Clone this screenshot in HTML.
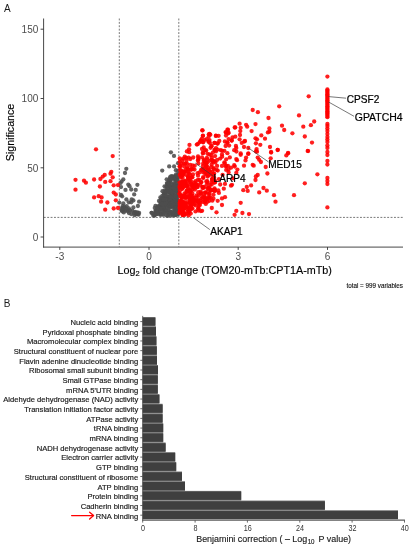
<!DOCTYPE html><html><head><meta charset="utf-8"><title>Figure</title>
<style>html,body{margin:0;padding:0;background:#fff}svg{display:block}text{font-family:"Liberation Sans",sans-serif}</style></head><body>
<svg width="414" height="550" viewBox="0 0 414 550">
<rect width="414" height="550" fill="#fff"/>
<text x="4.1" y="11.8" font-size="10" fill="#1a1a1a">A</text>
<g stroke="#4a4a4a" stroke-width="0.75" stroke-dasharray="1.9 1.5" fill="none">
<line x1="119.3" y1="18.5" x2="119.3" y2="246.8"/>
<line x1="178.8" y1="18.5" x2="178.8" y2="246.8"/>
<line x1="43.8" y1="217.4" x2="403" y2="217.4"/>
</g>
<g fill="#4d4d4d" fill-opacity="0.88">
<circle cx="126.3" cy="168.8" r="2.15"/>
<circle cx="125.0" cy="173.0" r="2.15"/>
<circle cx="123.3" cy="179.4" r="2.15"/>
<circle cx="121.6" cy="181.4" r="2.15"/>
<circle cx="120.5" cy="183.1" r="2.15"/>
<circle cx="128.3" cy="184.6" r="2.15"/>
<circle cx="129.5" cy="186.2" r="2.15"/>
<circle cx="137.4" cy="184.8" r="2.15"/>
<circle cx="121.0" cy="187.1" r="2.15"/>
<circle cx="125.5" cy="189.9" r="2.15"/>
<circle cx="131.2" cy="189.5" r="2.15"/>
<circle cx="135.7" cy="189.9" r="2.15"/>
<circle cx="134.2" cy="194.4" r="2.15"/>
<circle cx="121.0" cy="194.9" r="2.15"/>
<circle cx="122.1" cy="196.3" r="2.15"/>
<circle cx="126.4" cy="199.5" r="2.15"/>
<circle cx="131.7" cy="199.5" r="2.15"/>
<circle cx="133.4" cy="200.4" r="2.15"/>
<circle cx="131.2" cy="202.3" r="2.15"/>
<circle cx="139.1" cy="201.7" r="2.15"/>
<circle cx="119.3" cy="202.6" r="2.15"/>
<circle cx="123.3" cy="203.4" r="2.15"/>
<circle cx="128.9" cy="202.3" r="2.15"/>
<circle cx="137.9" cy="206.0" r="2.15"/>
<circle cx="133.4" cy="207.4" r="2.15"/>
<circle cx="122.7" cy="206.2" r="2.15"/>
<circle cx="124.4" cy="206.8" r="2.15"/>
<circle cx="126.7" cy="206.2" r="2.15"/>
<circle cx="121.6" cy="208.5" r="2.15"/>
<circle cx="123.3" cy="209.6" r="2.15"/>
<circle cx="126.1" cy="208.5" r="2.15"/>
<circle cx="128.9" cy="208.5" r="2.15"/>
<circle cx="130.0" cy="210.2" r="2.15"/>
<circle cx="132.3" cy="210.7" r="2.15"/>
<circle cx="123.8" cy="212.4" r="2.15"/>
<circle cx="128.9" cy="213.0" r="2.15"/>
<circle cx="131.2" cy="214.1" r="2.15"/>
<circle cx="135.1" cy="211.9" r="2.15"/>
<circle cx="137.4" cy="212.4" r="2.15"/>
<circle cx="139.1" cy="213.0" r="2.15"/>
<circle cx="136.2" cy="214.1" r="2.15"/>
<circle cx="138.5" cy="214.7" r="2.15"/>
<circle cx="134.5" cy="215.2" r="2.15"/>
<circle cx="151.5" cy="212.8" r="2.15"/>
<circle cx="122.1" cy="211.3" r="2.15"/>
<circle cx="125.0" cy="210.7" r="2.15"/>
<circle cx="127.8" cy="211.3" r="2.15"/>
<circle cx="134.0" cy="213.0" r="2.15"/>
<circle cx="136.8" cy="213.6" r="2.15"/>
<circle cx="135.7" cy="212.8" r="2.15"/>
<circle cx="137.7" cy="213.9" r="2.15"/>
<circle cx="127.2" cy="209.6" r="2.15"/>
<circle cx="123.0" cy="207.9" r="2.15"/>
<circle cx="121.9" cy="210.2" r="2.15"/>
<circle cx="166.1" cy="191.2" r="2.15"/>
<circle cx="172.8" cy="178.1" r="2.15"/>
<circle cx="170.7" cy="192.8" r="2.15"/>
<circle cx="157.5" cy="211.6" r="2.15"/>
<circle cx="156.3" cy="212.2" r="2.15"/>
<circle cx="158.1" cy="206.3" r="2.15"/>
<circle cx="168.4" cy="210.4" r="2.15"/>
<circle cx="160.3" cy="204.6" r="2.15"/>
<circle cx="172.4" cy="213.9" r="2.15"/>
<circle cx="171.4" cy="193.6" r="2.15"/>
<circle cx="178.0" cy="170.9" r="2.15"/>
<circle cx="176.2" cy="185.7" r="2.15"/>
<circle cx="161.1" cy="201.5" r="2.15"/>
<circle cx="165.8" cy="211.1" r="2.15"/>
<circle cx="162.3" cy="208.4" r="2.15"/>
<circle cx="172.6" cy="191.9" r="2.15"/>
<circle cx="170.9" cy="179.3" r="2.15"/>
<circle cx="157.6" cy="208.5" r="2.15"/>
<circle cx="173.3" cy="193.8" r="2.15"/>
<circle cx="165.9" cy="204.8" r="2.15"/>
<circle cx="169.0" cy="192.0" r="2.15"/>
<circle cx="175.2" cy="204.0" r="2.15"/>
<circle cx="164.1" cy="206.3" r="2.15"/>
<circle cx="170.5" cy="211.5" r="2.15"/>
<circle cx="174.1" cy="187.3" r="2.15"/>
<circle cx="178.0" cy="175.2" r="2.15"/>
<circle cx="168.3" cy="208.3" r="2.15"/>
<circle cx="161.3" cy="207.8" r="2.15"/>
<circle cx="156.4" cy="213.7" r="2.15"/>
<circle cx="174.7" cy="199.1" r="2.15"/>
<circle cx="176.4" cy="186.6" r="2.15"/>
<circle cx="173.5" cy="200.4" r="2.15"/>
<circle cx="171.5" cy="195.9" r="2.15"/>
<circle cx="175.9" cy="213.6" r="2.15"/>
<circle cx="169.4" cy="204.6" r="2.15"/>
<circle cx="157.6" cy="213.2" r="2.15"/>
<circle cx="172.7" cy="215.6" r="2.15"/>
<circle cx="175.6" cy="186.0" r="2.15"/>
<circle cx="167.6" cy="205.8" r="2.15"/>
<circle cx="155.3" cy="213.6" r="2.15"/>
<circle cx="161.9" cy="200.1" r="2.15"/>
<circle cx="157.5" cy="213.8" r="2.15"/>
<circle cx="160.5" cy="204.7" r="2.15"/>
<circle cx="167.7" cy="212.0" r="2.15"/>
<circle cx="158.6" cy="209.9" r="2.15"/>
<circle cx="170.9" cy="211.8" r="2.15"/>
<circle cx="175.6" cy="210.5" r="2.15"/>
<circle cx="165.0" cy="201.1" r="2.15"/>
<circle cx="167.0" cy="212.5" r="2.15"/>
<circle cx="177.7" cy="177.2" r="2.15"/>
<circle cx="162.1" cy="201.9" r="2.15"/>
<circle cx="163.8" cy="204.5" r="2.15"/>
<circle cx="171.7" cy="187.9" r="2.15"/>
<circle cx="153.3" cy="215.6" r="2.15"/>
<circle cx="167.2" cy="202.9" r="2.15"/>
<circle cx="177.6" cy="202.8" r="2.15"/>
<circle cx="170.3" cy="202.5" r="2.15"/>
<circle cx="173.2" cy="176.7" r="2.15"/>
<circle cx="176.8" cy="206.8" r="2.15"/>
<circle cx="176.4" cy="207.7" r="2.15"/>
<circle cx="167.7" cy="197.0" r="2.15"/>
<circle cx="159.6" cy="211.3" r="2.15"/>
<circle cx="157.7" cy="206.7" r="2.15"/>
<circle cx="163.1" cy="198.1" r="2.15"/>
<circle cx="166.5" cy="186.6" r="2.15"/>
<circle cx="161.3" cy="200.8" r="2.15"/>
<circle cx="167.1" cy="184.1" r="2.15"/>
<circle cx="176.4" cy="200.0" r="2.15"/>
<circle cx="161.2" cy="203.9" r="2.15"/>
<circle cx="166.7" cy="197.2" r="2.15"/>
<circle cx="160.3" cy="213.8" r="2.15"/>
<circle cx="178.2" cy="192.6" r="2.15"/>
<circle cx="169.6" cy="182.2" r="2.15"/>
<circle cx="159.5" cy="207.5" r="2.15"/>
<circle cx="164.7" cy="211.8" r="2.15"/>
<circle cx="161.6" cy="198.3" r="2.15"/>
<circle cx="177.6" cy="195.6" r="2.15"/>
<circle cx="161.1" cy="208.8" r="2.15"/>
<circle cx="155.6" cy="213.5" r="2.15"/>
<circle cx="178.0" cy="210.1" r="2.15"/>
<circle cx="173.6" cy="186.5" r="2.15"/>
<circle cx="167.1" cy="189.7" r="2.15"/>
<circle cx="174.8" cy="197.4" r="2.15"/>
<circle cx="174.9" cy="188.6" r="2.15"/>
<circle cx="163.5" cy="212.0" r="2.15"/>
<circle cx="178.1" cy="209.6" r="2.15"/>
<circle cx="175.4" cy="208.7" r="2.15"/>
<circle cx="174.3" cy="184.4" r="2.15"/>
<circle cx="170.3" cy="192.6" r="2.15"/>
<circle cx="155.8" cy="210.3" r="2.15"/>
<circle cx="165.0" cy="196.7" r="2.15"/>
<circle cx="173.5" cy="214.2" r="2.15"/>
<circle cx="168.9" cy="213.8" r="2.15"/>
<circle cx="178.1" cy="213.9" r="2.15"/>
<circle cx="167.1" cy="191.7" r="2.15"/>
<circle cx="163.6" cy="197.9" r="2.15"/>
<circle cx="163.0" cy="208.5" r="2.15"/>
<circle cx="176.8" cy="209.3" r="2.15"/>
<circle cx="169.6" cy="204.2" r="2.15"/>
<circle cx="175.3" cy="176.4" r="2.15"/>
<circle cx="172.9" cy="212.5" r="2.15"/>
<circle cx="175.0" cy="206.1" r="2.15"/>
<circle cx="169.5" cy="186.5" r="2.15"/>
<circle cx="175.1" cy="188.6" r="2.15"/>
<circle cx="175.3" cy="214.7" r="2.15"/>
<circle cx="167.8" cy="197.0" r="2.15"/>
<circle cx="177.5" cy="204.3" r="2.15"/>
<circle cx="161.9" cy="200.1" r="2.15"/>
<circle cx="161.3" cy="214.4" r="2.15"/>
<circle cx="175.4" cy="179.5" r="2.15"/>
<circle cx="175.7" cy="215.0" r="2.15"/>
<circle cx="172.9" cy="190.8" r="2.15"/>
<circle cx="170.9" cy="182.6" r="2.15"/>
<circle cx="154.5" cy="215.7" r="2.15"/>
<circle cx="172.7" cy="198.1" r="2.15"/>
<circle cx="177.3" cy="191.5" r="2.15"/>
<circle cx="176.4" cy="208.8" r="2.15"/>
<circle cx="163.2" cy="200.2" r="2.15"/>
<circle cx="165.4" cy="195.6" r="2.15"/>
<circle cx="171.6" cy="187.8" r="2.15"/>
<circle cx="168.3" cy="186.4" r="2.15"/>
<circle cx="177.0" cy="188.1" r="2.15"/>
<circle cx="169.1" cy="202.1" r="2.15"/>
<circle cx="176.9" cy="191.2" r="2.15"/>
<circle cx="177.1" cy="194.7" r="2.15"/>
<circle cx="170.6" cy="198.9" r="2.15"/>
<circle cx="154.9" cy="213.8" r="2.15"/>
<circle cx="162.3" cy="195.8" r="2.15"/>
<circle cx="175.2" cy="181.0" r="2.15"/>
<circle cx="169.4" cy="206.7" r="2.15"/>
<circle cx="171.1" cy="190.9" r="2.15"/>
<circle cx="170.3" cy="200.2" r="2.15"/>
<circle cx="175.0" cy="177.8" r="2.15"/>
<circle cx="171.1" cy="187.7" r="2.15"/>
<circle cx="165.0" cy="210.3" r="2.15"/>
<circle cx="170.1" cy="200.6" r="2.15"/>
<circle cx="174.6" cy="212.5" r="2.15"/>
<circle cx="168.8" cy="203.3" r="2.15"/>
<circle cx="170.1" cy="198.8" r="2.15"/>
<circle cx="173.5" cy="194.7" r="2.15"/>
<circle cx="170.6" cy="197.2" r="2.15"/>
<circle cx="177.4" cy="203.2" r="2.15"/>
<circle cx="176.5" cy="213.5" r="2.15"/>
<circle cx="164.5" cy="205.4" r="2.15"/>
<circle cx="177.5" cy="209.2" r="2.15"/>
<circle cx="160.8" cy="202.0" r="2.15"/>
<circle cx="168.8" cy="183.0" r="2.15"/>
<circle cx="164.0" cy="193.4" r="2.15"/>
<circle cx="173.1" cy="207.8" r="2.15"/>
<circle cx="176.8" cy="178.4" r="2.15"/>
<circle cx="173.9" cy="202.9" r="2.15"/>
<circle cx="161.0" cy="214.1" r="2.15"/>
<circle cx="177.8" cy="180.7" r="2.15"/>
<circle cx="177.6" cy="189.7" r="2.15"/>
<circle cx="169.7" cy="215.5" r="2.15"/>
<circle cx="175.8" cy="179.8" r="2.15"/>
<circle cx="168.6" cy="200.2" r="2.15"/>
<circle cx="166.5" cy="192.0" r="2.15"/>
<circle cx="166.0" cy="208.4" r="2.15"/>
<circle cx="155.0" cy="214.2" r="2.15"/>
<circle cx="168.8" cy="180.3" r="2.15"/>
<circle cx="166.3" cy="205.5" r="2.15"/>
<circle cx="170.2" cy="180.2" r="2.15"/>
<circle cx="178.1" cy="206.9" r="2.15"/>
<circle cx="177.9" cy="174.5" r="2.15"/>
<circle cx="164.7" cy="190.5" r="2.15"/>
<circle cx="174.9" cy="186.0" r="2.15"/>
<circle cx="160.5" cy="207.5" r="2.15"/>
<circle cx="177.0" cy="208.4" r="2.15"/>
<circle cx="164.5" cy="194.6" r="2.15"/>
<circle cx="177.1" cy="197.8" r="2.15"/>
<circle cx="173.6" cy="178.2" r="2.15"/>
<circle cx="157.5" cy="213.2" r="2.15"/>
<circle cx="168.4" cy="183.6" r="2.15"/>
<circle cx="177.4" cy="200.4" r="2.15"/>
<circle cx="175.3" cy="176.3" r="2.15"/>
<circle cx="176.1" cy="174.3" r="2.15"/>
<circle cx="176.2" cy="193.2" r="2.15"/>
<circle cx="166.5" cy="203.2" r="2.15"/>
<circle cx="177.2" cy="183.7" r="2.15"/>
<circle cx="160.5" cy="209.1" r="2.15"/>
<circle cx="164.0" cy="194.7" r="2.15"/>
<circle cx="161.6" cy="199.0" r="2.15"/>
<circle cx="162.9" cy="202.1" r="2.15"/>
<circle cx="165.7" cy="209.6" r="2.15"/>
<circle cx="165.3" cy="203.1" r="2.15"/>
<circle cx="162.2" cy="204.1" r="2.15"/>
<circle cx="154.9" cy="213.2" r="2.15"/>
<circle cx="154.6" cy="215.0" r="2.15"/>
<circle cx="171.0" cy="185.3" r="2.15"/>
<circle cx="169.5" cy="213.7" r="2.15"/>
<circle cx="159.7" cy="213.6" r="2.15"/>
<circle cx="168.6" cy="199.4" r="2.15"/>
<circle cx="175.8" cy="190.8" r="2.15"/>
<circle cx="170.1" cy="205.1" r="2.15"/>
<circle cx="178.0" cy="186.8" r="2.15"/>
<circle cx="175.8" cy="204.1" r="2.15"/>
<circle cx="172.5" cy="193.3" r="2.15"/>
<circle cx="166.7" cy="186.3" r="2.15"/>
<circle cx="160.6" cy="201.5" r="2.15"/>
<circle cx="174.3" cy="185.7" r="2.15"/>
<circle cx="161.7" cy="199.7" r="2.15"/>
<circle cx="175.9" cy="210.7" r="2.15"/>
<circle cx="173.1" cy="187.7" r="2.15"/>
<circle cx="164.1" cy="199.5" r="2.15"/>
<circle cx="169.1" cy="186.2" r="2.15"/>
<circle cx="168.9" cy="190.8" r="2.15"/>
<circle cx="177.7" cy="214.7" r="2.15"/>
<circle cx="170.9" cy="187.7" r="2.15"/>
<circle cx="177.8" cy="185.3" r="2.15"/>
<circle cx="166.9" cy="183.1" r="2.15"/>
<circle cx="167.5" cy="199.7" r="2.15"/>
<circle cx="170.0" cy="186.7" r="2.15"/>
<circle cx="170.1" cy="177.1" r="2.15"/>
<circle cx="164.6" cy="192.3" r="2.15"/>
<circle cx="167.9" cy="183.1" r="2.15"/>
<circle cx="155.3" cy="212.8" r="2.15"/>
<circle cx="163.8" cy="206.9" r="2.15"/>
<circle cx="170.5" cy="207.2" r="2.15"/>
<circle cx="172.9" cy="205.3" r="2.15"/>
<circle cx="176.5" cy="190.1" r="2.15"/>
<circle cx="166.2" cy="215.4" r="2.15"/>
<circle cx="161.2" cy="211.6" r="2.15"/>
<circle cx="172.6" cy="176.7" r="2.15"/>
<circle cx="175.8" cy="211.6" r="2.15"/>
<circle cx="172.4" cy="206.1" r="2.15"/>
<circle cx="175.5" cy="179.1" r="2.15"/>
<circle cx="170.4" cy="198.2" r="2.15"/>
<circle cx="175.8" cy="208.1" r="2.15"/>
<circle cx="175.7" cy="199.1" r="2.15"/>
<circle cx="176.7" cy="202.8" r="2.15"/>
<circle cx="173.5" cy="185.1" r="2.15"/>
<circle cx="155.9" cy="210.8" r="2.15"/>
<circle cx="167.0" cy="187.6" r="2.15"/>
<circle cx="175.8" cy="197.9" r="2.15"/>
<circle cx="172.4" cy="202.1" r="2.15"/>
<circle cx="173.3" cy="196.3" r="2.15"/>
<circle cx="175.2" cy="206.0" r="2.15"/>
<circle cx="170.0" cy="199.7" r="2.15"/>
<circle cx="172.9" cy="177.6" r="2.15"/>
<circle cx="174.2" cy="185.6" r="2.15"/>
<circle cx="158.3" cy="208.1" r="2.15"/>
<circle cx="174.1" cy="183.6" r="2.15"/>
<circle cx="174.3" cy="214.9" r="2.15"/>
<circle cx="169.8" cy="194.2" r="2.15"/>
<circle cx="169.5" cy="205.3" r="2.15"/>
<circle cx="174.7" cy="200.9" r="2.15"/>
<circle cx="172.6" cy="178.5" r="2.15"/>
<circle cx="161.2" cy="203.9" r="2.15"/>
<circle cx="174.3" cy="187.9" r="2.15"/>
<circle cx="171.3" cy="176.1" r="2.15"/>
<circle cx="157.6" cy="209.1" r="2.15"/>
<circle cx="173.1" cy="204.4" r="2.15"/>
<circle cx="173.2" cy="188.1" r="2.15"/>
<circle cx="170.3" cy="196.8" r="2.15"/>
<circle cx="169.3" cy="184.3" r="2.15"/>
<circle cx="176.7" cy="180.8" r="2.15"/>
<circle cx="178.0" cy="213.2" r="2.15"/>
<circle cx="154.8" cy="214.0" r="2.15"/>
<circle cx="175.6" cy="214.6" r="2.15"/>
<circle cx="168.9" cy="190.9" r="2.15"/>
<circle cx="163.1" cy="214.8" r="2.15"/>
<circle cx="163.2" cy="207.5" r="2.15"/>
<circle cx="161.0" cy="208.7" r="2.15"/>
<circle cx="177.6" cy="176.3" r="2.15"/>
<circle cx="175.6" cy="196.0" r="2.15"/>
<circle cx="176.6" cy="203.7" r="2.15"/>
<circle cx="163.8" cy="213.7" r="2.15"/>
<circle cx="169.7" cy="179.0" r="2.15"/>
<circle cx="169.8" cy="196.8" r="2.15"/>
<circle cx="165.6" cy="191.9" r="2.15"/>
<circle cx="166.6" cy="195.8" r="2.15"/>
<circle cx="175.9" cy="170.2" r="2.15"/>
<circle cx="174.5" cy="209.7" r="2.15"/>
<circle cx="160.2" cy="214.8" r="2.15"/>
<circle cx="173.8" cy="212.1" r="2.15"/>
<circle cx="165.3" cy="199.5" r="2.15"/>
<circle cx="167.7" cy="215.8" r="2.15"/>
<circle cx="171.7" cy="192.0" r="2.15"/>
<circle cx="168.5" cy="191.7" r="2.15"/>
<circle cx="157.0" cy="208.5" r="2.15"/>
<circle cx="175.8" cy="185.9" r="2.15"/>
<circle cx="177.4" cy="182.7" r="2.15"/>
<circle cx="164.7" cy="204.0" r="2.15"/>
<circle cx="162.5" cy="204.0" r="2.15"/>
<circle cx="177.7" cy="211.0" r="2.15"/>
<circle cx="175.5" cy="201.2" r="2.15"/>
<circle cx="177.0" cy="213.4" r="2.15"/>
<circle cx="170.9" cy="206.0" r="2.15"/>
<circle cx="157.0" cy="213.8" r="2.15"/>
<circle cx="170.9" cy="152.3" r="2.15"/>
<circle cx="174.0" cy="155.9" r="2.15"/>
<circle cx="178.1" cy="163.2" r="2.15"/>
<circle cx="169.2" cy="166.4" r="2.15"/>
<circle cx="174.1" cy="166.4" r="2.15"/>
<circle cx="162.2" cy="170.6" r="2.15"/>
<circle cx="151.8" cy="212.8" r="2.15"/>
<circle cx="166.7" cy="179.3" r="2.15"/>
<circle cx="164.6" cy="186.3" r="2.15"/>
<circle cx="162.5" cy="191.2" r="2.15"/>
<circle cx="160.4" cy="197.4" r="2.15"/>
<circle cx="159.0" cy="201.0" r="2.15"/>
<circle cx="155.5" cy="205.8" r="2.15"/>
<circle cx="154.8" cy="208.0" r="2.15"/>
</g>
<g fill="#ff0000" fill-opacity="0.88">
<circle cx="96.0" cy="149.3" r="2.15"/>
<circle cx="112.7" cy="156.1" r="2.15"/>
<circle cx="111.3" cy="171.8" r="2.15"/>
<circle cx="110.5" cy="173.7" r="2.15"/>
<circle cx="104.7" cy="174.9" r="2.15"/>
<circle cx="102.8" cy="176.6" r="2.15"/>
<circle cx="100.4" cy="179.0" r="2.15"/>
<circle cx="94.1" cy="179.5" r="2.15"/>
<circle cx="75.5" cy="179.8" r="2.15"/>
<circle cx="84.0" cy="180.7" r="2.15"/>
<circle cx="85.9" cy="182.7" r="2.15"/>
<circle cx="105.2" cy="181.9" r="2.15"/>
<circle cx="110.5" cy="181.2" r="2.15"/>
<circle cx="112.7" cy="177.3" r="2.15"/>
<circle cx="75.5" cy="189.7" r="2.15"/>
<circle cx="99.9" cy="186.5" r="2.15"/>
<circle cx="113.7" cy="185.3" r="2.15"/>
<circle cx="118.0" cy="185.1" r="2.15"/>
<circle cx="113.7" cy="192.6" r="2.15"/>
<circle cx="115.8" cy="194.5" r="2.15"/>
<circle cx="94.1" cy="197.4" r="2.15"/>
<circle cx="98.7" cy="196.2" r="2.15"/>
<circle cx="101.6" cy="197.4" r="2.15"/>
<circle cx="101.1" cy="201.7" r="2.15"/>
<circle cx="107.4" cy="202.5" r="2.15"/>
<circle cx="115.8" cy="200.3" r="2.15"/>
<circle cx="105.2" cy="209.7" r="2.15"/>
<circle cx="113.7" cy="208.5" r="2.15"/>
<circle cx="118.0" cy="208.0" r="2.15"/>
<circle cx="190.9" cy="206.2" r="2.15"/>
<circle cx="185.5" cy="163.6" r="2.15"/>
<circle cx="211.8" cy="159.9" r="2.15"/>
<circle cx="191.7" cy="185.1" r="2.15"/>
<circle cx="185.8" cy="206.5" r="2.15"/>
<circle cx="184.7" cy="203.4" r="2.15"/>
<circle cx="185.9" cy="198.8" r="2.15"/>
<circle cx="188.9" cy="173.5" r="2.15"/>
<circle cx="182.2" cy="181.6" r="2.15"/>
<circle cx="210.8" cy="190.4" r="2.15"/>
<circle cx="183.6" cy="212.9" r="2.15"/>
<circle cx="190.9" cy="169.7" r="2.15"/>
<circle cx="182.9" cy="171.3" r="2.15"/>
<circle cx="187.2" cy="167.4" r="2.15"/>
<circle cx="184.1" cy="183.8" r="2.15"/>
<circle cx="195.5" cy="211.4" r="2.15"/>
<circle cx="189.6" cy="190.1" r="2.15"/>
<circle cx="193.7" cy="186.4" r="2.15"/>
<circle cx="187.1" cy="163.9" r="2.15"/>
<circle cx="192.9" cy="200.3" r="2.15"/>
<circle cx="208.7" cy="169.7" r="2.15"/>
<circle cx="185.0" cy="182.5" r="2.15"/>
<circle cx="189.1" cy="192.0" r="2.15"/>
<circle cx="179.8" cy="206.4" r="2.15"/>
<circle cx="191.8" cy="198.5" r="2.15"/>
<circle cx="179.6" cy="193.3" r="2.15"/>
<circle cx="211.8" cy="208.0" r="2.15"/>
<circle cx="184.4" cy="171.9" r="2.15"/>
<circle cx="182.0" cy="198.5" r="2.15"/>
<circle cx="198.8" cy="205.8" r="2.15"/>
<circle cx="191.2" cy="196.9" r="2.15"/>
<circle cx="181.4" cy="184.9" r="2.15"/>
<circle cx="198.3" cy="202.7" r="2.15"/>
<circle cx="181.1" cy="170.4" r="2.15"/>
<circle cx="193.7" cy="197.9" r="2.15"/>
<circle cx="188.7" cy="178.2" r="2.15"/>
<circle cx="196.8" cy="144.6" r="2.15"/>
<circle cx="185.9" cy="194.2" r="2.15"/>
<circle cx="213.5" cy="198.7" r="2.15"/>
<circle cx="191.8" cy="177.4" r="2.15"/>
<circle cx="184.3" cy="214.7" r="2.15"/>
<circle cx="186.1" cy="157.9" r="2.15"/>
<circle cx="192.7" cy="202.5" r="2.15"/>
<circle cx="189.8" cy="180.1" r="2.15"/>
<circle cx="179.9" cy="190.5" r="2.15"/>
<circle cx="189.9" cy="203.3" r="2.15"/>
<circle cx="183.0" cy="209.1" r="2.15"/>
<circle cx="193.0" cy="174.4" r="2.15"/>
<circle cx="214.0" cy="177.2" r="2.15"/>
<circle cx="206.6" cy="171.4" r="2.15"/>
<circle cx="213.1" cy="190.1" r="2.15"/>
<circle cx="182.8" cy="182.4" r="2.15"/>
<circle cx="189.7" cy="202.6" r="2.15"/>
<circle cx="213.0" cy="162.0" r="2.15"/>
<circle cx="188.9" cy="177.3" r="2.15"/>
<circle cx="214.3" cy="161.3" r="2.15"/>
<circle cx="180.1" cy="169.9" r="2.15"/>
<circle cx="188.9" cy="212.2" r="2.15"/>
<circle cx="212.1" cy="178.8" r="2.15"/>
<circle cx="182.7" cy="213.9" r="2.15"/>
<circle cx="179.8" cy="204.8" r="2.15"/>
<circle cx="188.4" cy="188.3" r="2.15"/>
<circle cx="186.9" cy="175.3" r="2.15"/>
<circle cx="179.6" cy="187.5" r="2.15"/>
<circle cx="213.8" cy="168.2" r="2.15"/>
<circle cx="187.7" cy="209.4" r="2.15"/>
<circle cx="190.3" cy="159.0" r="2.15"/>
<circle cx="191.8" cy="186.9" r="2.15"/>
<circle cx="211.5" cy="167.2" r="2.15"/>
<circle cx="189.5" cy="208.8" r="2.15"/>
<circle cx="179.9" cy="166.4" r="2.15"/>
<circle cx="185.1" cy="214.6" r="2.15"/>
<circle cx="184.8" cy="205.8" r="2.15"/>
<circle cx="186.4" cy="183.5" r="2.15"/>
<circle cx="179.6" cy="208.1" r="2.15"/>
<circle cx="184.0" cy="195.7" r="2.15"/>
<circle cx="184.5" cy="193.3" r="2.15"/>
<circle cx="205.8" cy="203.9" r="2.15"/>
<circle cx="204.4" cy="197.2" r="2.15"/>
<circle cx="186.7" cy="186.0" r="2.15"/>
<circle cx="180.3" cy="166.0" r="2.15"/>
<circle cx="194.8" cy="182.6" r="2.15"/>
<circle cx="180.6" cy="173.5" r="2.15"/>
<circle cx="192.7" cy="204.1" r="2.15"/>
<circle cx="190.8" cy="177.9" r="2.15"/>
<circle cx="189.7" cy="200.6" r="2.15"/>
<circle cx="199.9" cy="204.9" r="2.15"/>
<circle cx="207.6" cy="176.5" r="2.15"/>
<circle cx="195.4" cy="185.5" r="2.15"/>
<circle cx="202.8" cy="169.0" r="2.15"/>
<circle cx="184.4" cy="182.8" r="2.15"/>
<circle cx="182.0" cy="212.2" r="2.15"/>
<circle cx="186.7" cy="190.5" r="2.15"/>
<circle cx="215.2" cy="190.7" r="2.15"/>
<circle cx="183.9" cy="209.4" r="2.15"/>
<circle cx="215.1" cy="156.1" r="2.15"/>
<circle cx="191.8" cy="208.9" r="2.15"/>
<circle cx="211.2" cy="146.4" r="2.15"/>
<circle cx="185.7" cy="171.7" r="2.15"/>
<circle cx="182.8" cy="215.1" r="2.15"/>
<circle cx="212.0" cy="182.0" r="2.15"/>
<circle cx="208.8" cy="187.5" r="2.15"/>
<circle cx="184.7" cy="208.2" r="2.15"/>
<circle cx="181.0" cy="201.9" r="2.15"/>
<circle cx="197.6" cy="173.2" r="2.15"/>
<circle cx="188.1" cy="171.8" r="2.15"/>
<circle cx="183.2" cy="184.2" r="2.15"/>
<circle cx="196.7" cy="200.7" r="2.15"/>
<circle cx="183.2" cy="158.6" r="2.15"/>
<circle cx="186.7" cy="203.8" r="2.15"/>
<circle cx="182.7" cy="187.9" r="2.15"/>
<circle cx="183.2" cy="209.0" r="2.15"/>
<circle cx="180.3" cy="174.2" r="2.15"/>
<circle cx="189.0" cy="197.4" r="2.15"/>
<circle cx="198.4" cy="159.5" r="2.15"/>
<circle cx="182.2" cy="205.5" r="2.15"/>
<circle cx="189.5" cy="182.1" r="2.15"/>
<circle cx="195.4" cy="184.5" r="2.15"/>
<circle cx="189.7" cy="210.9" r="2.15"/>
<circle cx="187.9" cy="176.8" r="2.15"/>
<circle cx="202.3" cy="169.7" r="2.15"/>
<circle cx="179.6" cy="212.9" r="2.15"/>
<circle cx="206.6" cy="184.8" r="2.15"/>
<circle cx="209.6" cy="188.2" r="2.15"/>
<circle cx="182.2" cy="160.5" r="2.15"/>
<circle cx="194.8" cy="200.5" r="2.15"/>
<circle cx="211.0" cy="155.0" r="2.15"/>
<circle cx="197.7" cy="184.6" r="2.15"/>
<circle cx="192.9" cy="169.1" r="2.15"/>
<circle cx="185.4" cy="197.3" r="2.15"/>
<circle cx="211.8" cy="157.6" r="2.15"/>
<circle cx="192.4" cy="208.2" r="2.15"/>
<circle cx="183.0" cy="174.8" r="2.15"/>
<circle cx="210.7" cy="197.5" r="2.15"/>
<circle cx="189.3" cy="210.2" r="2.15"/>
<circle cx="182.7" cy="182.1" r="2.15"/>
<circle cx="189.1" cy="195.8" r="2.15"/>
<circle cx="188.6" cy="169.6" r="2.15"/>
<circle cx="184.3" cy="206.2" r="2.15"/>
<circle cx="180.0" cy="200.8" r="2.15"/>
<circle cx="203.7" cy="147.5" r="2.15"/>
<circle cx="207.5" cy="159.4" r="2.15"/>
<circle cx="196.7" cy="195.5" r="2.15"/>
<circle cx="197.9" cy="180.0" r="2.15"/>
<circle cx="189.8" cy="198.8" r="2.15"/>
<circle cx="190.0" cy="202.2" r="2.15"/>
<circle cx="190.8" cy="191.1" r="2.15"/>
<circle cx="179.8" cy="203.0" r="2.15"/>
<circle cx="192.4" cy="177.2" r="2.15"/>
<circle cx="182.6" cy="196.2" r="2.15"/>
<circle cx="181.0" cy="176.2" r="2.15"/>
<circle cx="190.2" cy="165.0" r="2.15"/>
<circle cx="190.6" cy="195.0" r="2.15"/>
<circle cx="179.9" cy="203.7" r="2.15"/>
<circle cx="180.6" cy="207.2" r="2.15"/>
<circle cx="193.2" cy="157.5" r="2.15"/>
<circle cx="192.9" cy="186.7" r="2.15"/>
<circle cx="213.1" cy="160.8" r="2.15"/>
<circle cx="214.7" cy="189.7" r="2.15"/>
<circle cx="210.3" cy="174.7" r="2.15"/>
<circle cx="206.4" cy="162.7" r="2.15"/>
<circle cx="184.8" cy="196.8" r="2.15"/>
<circle cx="186.5" cy="160.5" r="2.15"/>
<circle cx="182.6" cy="177.9" r="2.15"/>
<circle cx="212.3" cy="200.7" r="2.15"/>
<circle cx="194.0" cy="200.4" r="2.15"/>
<circle cx="187.8" cy="211.4" r="2.15"/>
<circle cx="205.5" cy="174.4" r="2.15"/>
<circle cx="204.0" cy="187.4" r="2.15"/>
<circle cx="206.6" cy="173.4" r="2.15"/>
<circle cx="199.5" cy="179.9" r="2.15"/>
<circle cx="179.6" cy="166.5" r="2.15"/>
<circle cx="181.9" cy="202.5" r="2.15"/>
<circle cx="190.3" cy="195.2" r="2.15"/>
<circle cx="210.3" cy="160.7" r="2.15"/>
<circle cx="183.8" cy="203.5" r="2.15"/>
<circle cx="179.7" cy="158.4" r="2.15"/>
<circle cx="187.6" cy="168.7" r="2.15"/>
<circle cx="187.7" cy="179.0" r="2.15"/>
<circle cx="196.1" cy="197.6" r="2.15"/>
<circle cx="183.2" cy="202.5" r="2.15"/>
<circle cx="191.8" cy="168.6" r="2.15"/>
<circle cx="212.3" cy="171.8" r="2.15"/>
<circle cx="181.9" cy="172.6" r="2.15"/>
<circle cx="198.4" cy="210.6" r="2.15"/>
<circle cx="184.8" cy="156.7" r="2.15"/>
<circle cx="198.7" cy="195.7" r="2.15"/>
<circle cx="187.5" cy="202.3" r="2.15"/>
<circle cx="190.7" cy="213.6" r="2.15"/>
<circle cx="194.0" cy="188.1" r="2.15"/>
<circle cx="184.1" cy="166.4" r="2.15"/>
<circle cx="204.7" cy="140.1" r="2.15"/>
<circle cx="183.1" cy="201.9" r="2.15"/>
<circle cx="193.0" cy="200.9" r="2.15"/>
<circle cx="206.3" cy="166.0" r="2.15"/>
<circle cx="186.2" cy="185.2" r="2.15"/>
<circle cx="180.0" cy="212.5" r="2.15"/>
<circle cx="201.8" cy="138.8" r="2.15"/>
<circle cx="202.9" cy="188.2" r="2.15"/>
<circle cx="183.8" cy="172.1" r="2.15"/>
<circle cx="183.9" cy="163.6" r="2.15"/>
<circle cx="187.0" cy="206.7" r="2.15"/>
<circle cx="194.9" cy="189.5" r="2.15"/>
<circle cx="205.1" cy="192.3" r="2.15"/>
<circle cx="184.9" cy="202.8" r="2.15"/>
<circle cx="213.8" cy="169.2" r="2.15"/>
<circle cx="209.5" cy="140.1" r="2.15"/>
<circle cx="184.7" cy="181.9" r="2.15"/>
<circle cx="184.1" cy="212.9" r="2.15"/>
<circle cx="200.7" cy="200.7" r="2.15"/>
<circle cx="214.5" cy="188.3" r="2.15"/>
<circle cx="207.5" cy="201.8" r="2.15"/>
<circle cx="190.4" cy="205.1" r="2.15"/>
<circle cx="195.5" cy="181.1" r="2.15"/>
<circle cx="183.4" cy="202.4" r="2.15"/>
<circle cx="179.8" cy="175.1" r="2.15"/>
<circle cx="212.0" cy="180.0" r="2.15"/>
<circle cx="181.7" cy="163.9" r="2.15"/>
<circle cx="180.0" cy="205.8" r="2.15"/>
<circle cx="198.2" cy="202.7" r="2.15"/>
<circle cx="202.7" cy="153.0" r="2.15"/>
<circle cx="196.4" cy="184.5" r="2.15"/>
<circle cx="183.2" cy="173.2" r="2.15"/>
<circle cx="179.9" cy="211.2" r="2.15"/>
<circle cx="198.2" cy="208.6" r="2.15"/>
<circle cx="185.5" cy="169.9" r="2.15"/>
<circle cx="186.5" cy="192.0" r="2.15"/>
<circle cx="179.7" cy="186.0" r="2.15"/>
<circle cx="185.4" cy="205.7" r="2.15"/>
<circle cx="188.0" cy="185.3" r="2.15"/>
<circle cx="213.7" cy="190.5" r="2.15"/>
<circle cx="208.1" cy="197.6" r="2.15"/>
<circle cx="179.8" cy="194.3" r="2.15"/>
<circle cx="201.3" cy="193.7" r="2.15"/>
<circle cx="206.6" cy="165.6" r="2.15"/>
<circle cx="179.6" cy="182.6" r="2.15"/>
<circle cx="192.4" cy="193.5" r="2.15"/>
<circle cx="205.5" cy="167.2" r="2.15"/>
<circle cx="192.6" cy="185.0" r="2.15"/>
<circle cx="207.2" cy="173.9" r="2.15"/>
<circle cx="212.7" cy="175.1" r="2.15"/>
<circle cx="183.5" cy="205.4" r="2.15"/>
<circle cx="192.7" cy="165.4" r="2.15"/>
<circle cx="198.3" cy="158.1" r="2.15"/>
<circle cx="205.1" cy="201.9" r="2.15"/>
<circle cx="205.0" cy="198.3" r="2.15"/>
<circle cx="187.6" cy="190.3" r="2.15"/>
<circle cx="209.9" cy="143.0" r="2.15"/>
<circle cx="183.2" cy="184.7" r="2.15"/>
<circle cx="210.6" cy="190.6" r="2.15"/>
<circle cx="191.3" cy="195.9" r="2.15"/>
<circle cx="187.4" cy="186.1" r="2.15"/>
<circle cx="182.0" cy="210.8" r="2.15"/>
<circle cx="203.0" cy="166.0" r="2.15"/>
<circle cx="190.5" cy="207.1" r="2.15"/>
<circle cx="181.4" cy="196.0" r="2.15"/>
<circle cx="209.8" cy="171.6" r="2.15"/>
<circle cx="182.9" cy="187.2" r="2.15"/>
<circle cx="182.0" cy="184.3" r="2.15"/>
<circle cx="186.7" cy="196.9" r="2.15"/>
<circle cx="182.1" cy="189.0" r="2.15"/>
<circle cx="182.8" cy="215.2" r="2.15"/>
<circle cx="188.6" cy="215.4" r="2.15"/>
<circle cx="202.6" cy="187.2" r="2.15"/>
<circle cx="183.0" cy="203.1" r="2.15"/>
<circle cx="181.0" cy="182.2" r="2.15"/>
<circle cx="188.7" cy="157.6" r="2.15"/>
<circle cx="189.1" cy="208.0" r="2.15"/>
<circle cx="192.8" cy="200.5" r="2.15"/>
<circle cx="191.4" cy="169.6" r="2.15"/>
<circle cx="196.9" cy="187.0" r="2.15"/>
<circle cx="195.7" cy="205.4" r="2.15"/>
<circle cx="189.9" cy="178.0" r="2.15"/>
<circle cx="202.1" cy="210.8" r="2.15"/>
<circle cx="191.1" cy="183.4" r="2.15"/>
<circle cx="197.9" cy="160.6" r="2.15"/>
<circle cx="189.8" cy="207.6" r="2.15"/>
<circle cx="198.0" cy="175.7" r="2.15"/>
<circle cx="190.0" cy="192.3" r="2.15"/>
<circle cx="197.7" cy="187.1" r="2.15"/>
<circle cx="194.5" cy="169.6" r="2.15"/>
<circle cx="180.9" cy="201.0" r="2.15"/>
<circle cx="194.4" cy="204.2" r="2.15"/>
<circle cx="193.2" cy="200.7" r="2.15"/>
<circle cx="207.0" cy="192.1" r="2.15"/>
<circle cx="200.4" cy="185.1" r="2.15"/>
<circle cx="203.9" cy="160.6" r="2.15"/>
<circle cx="214.8" cy="180.5" r="2.15"/>
<circle cx="180.2" cy="186.9" r="2.15"/>
<circle cx="189.1" cy="152.2" r="2.15"/>
<circle cx="189.8" cy="190.4" r="2.15"/>
<circle cx="201.0" cy="182.2" r="2.15"/>
<circle cx="184.9" cy="181.0" r="2.15"/>
<circle cx="183.4" cy="174.7" r="2.15"/>
<circle cx="191.6" cy="197.3" r="2.15"/>
<circle cx="198.4" cy="208.3" r="2.15"/>
<circle cx="191.6" cy="181.9" r="2.15"/>
<circle cx="194.7" cy="165.8" r="2.15"/>
<circle cx="207.3" cy="181.2" r="2.15"/>
<circle cx="208.1" cy="174.3" r="2.15"/>
<circle cx="188.3" cy="180.7" r="2.15"/>
<circle cx="190.0" cy="174.4" r="2.15"/>
<circle cx="184.3" cy="186.4" r="2.15"/>
<circle cx="192.0" cy="190.1" r="2.15"/>
<circle cx="198.3" cy="200.8" r="2.15"/>
<circle cx="187.9" cy="213.4" r="2.15"/>
<circle cx="180.2" cy="210.5" r="2.15"/>
<circle cx="204.9" cy="162.6" r="2.15"/>
<circle cx="207.1" cy="198.4" r="2.15"/>
<circle cx="179.7" cy="161.8" r="2.15"/>
<circle cx="180.9" cy="177.5" r="2.15"/>
<circle cx="182.0" cy="212.9" r="2.15"/>
<circle cx="182.3" cy="212.5" r="2.15"/>
<circle cx="204.8" cy="200.4" r="2.15"/>
<circle cx="200.7" cy="193.5" r="2.15"/>
<circle cx="203.0" cy="187.3" r="2.15"/>
<circle cx="209.6" cy="193.9" r="2.15"/>
<circle cx="184.8" cy="181.7" r="2.15"/>
<circle cx="181.7" cy="197.3" r="2.15"/>
<circle cx="180.2" cy="196.6" r="2.15"/>
<circle cx="181.8" cy="197.2" r="2.15"/>
<circle cx="192.7" cy="195.9" r="2.15"/>
<circle cx="208.7" cy="136.6" r="2.15"/>
<circle cx="207.6" cy="188.8" r="2.15"/>
<circle cx="195.2" cy="201.6" r="2.15"/>
<circle cx="207.6" cy="182.6" r="2.15"/>
<circle cx="198.3" cy="199.6" r="2.15"/>
<circle cx="179.8" cy="202.7" r="2.15"/>
<circle cx="214.6" cy="190.9" r="2.15"/>
<circle cx="201.9" cy="198.4" r="2.15"/>
<circle cx="202.3" cy="130.3" r="2.15"/>
<circle cx="228.0" cy="129.7" r="2.15"/>
<circle cx="225.6" cy="132.1" r="2.15"/>
<circle cx="228.6" cy="132.7" r="2.15"/>
<circle cx="203.0" cy="135.7" r="2.15"/>
<circle cx="215.9" cy="135.7" r="2.15"/>
<circle cx="200.8" cy="140.5" r="2.15"/>
<circle cx="199.6" cy="142.3" r="2.15"/>
<circle cx="203.2" cy="142.3" r="2.15"/>
<circle cx="208.7" cy="141.7" r="2.15"/>
<circle cx="214.7" cy="142.9" r="2.15"/>
<circle cx="217.7" cy="143.6" r="2.15"/>
<circle cx="227.4" cy="142.3" r="2.15"/>
<circle cx="231.6" cy="140.5" r="2.15"/>
<circle cx="211.7" cy="146.0" r="2.15"/>
<circle cx="210.5" cy="147.8" r="2.15"/>
<circle cx="225.6" cy="146.0" r="2.15"/>
<circle cx="202.0" cy="149.0" r="2.15"/>
<circle cx="205.1" cy="150.2" r="2.15"/>
<circle cx="217.7" cy="149.6" r="2.15"/>
<circle cx="215.9" cy="151.4" r="2.15"/>
<circle cx="220.8" cy="150.2" r="2.15"/>
<circle cx="224.4" cy="150.8" r="2.15"/>
<circle cx="203.2" cy="153.2" r="2.15"/>
<circle cx="207.5" cy="153.8" r="2.15"/>
<circle cx="212.9" cy="152.6" r="2.15"/>
<circle cx="222.0" cy="154.4" r="2.15"/>
<circle cx="227.4" cy="153.2" r="2.15"/>
<circle cx="229.8" cy="157.4" r="2.15"/>
<circle cx="226.2" cy="159.3" r="2.15"/>
<circle cx="207.5" cy="162.3" r="2.15"/>
<circle cx="212.9" cy="161.1" r="2.15"/>
<circle cx="217.1" cy="159.9" r="2.15"/>
<circle cx="220.2" cy="158.6" r="2.15"/>
<circle cx="224.4" cy="162.3" r="2.15"/>
<circle cx="202.0" cy="157.4" r="2.15"/>
<circle cx="203.2" cy="163.5" r="2.15"/>
<circle cx="211.7" cy="164.7" r="2.15"/>
<circle cx="217.1" cy="165.9" r="2.15"/>
<circle cx="222.0" cy="165.9" r="2.15"/>
<circle cx="228.0" cy="165.9" r="2.15"/>
<circle cx="208.1" cy="167.7" r="2.15"/>
<circle cx="231.0" cy="167.7" r="2.15"/>
<circle cx="199.6" cy="172.4" r="2.15"/>
<circle cx="204.5" cy="171.8" r="2.15"/>
<circle cx="209.3" cy="171.2" r="2.15"/>
<circle cx="217.7" cy="170.6" r="2.15"/>
<circle cx="228.6" cy="172.4" r="2.15"/>
<circle cx="203.2" cy="177.2" r="2.15"/>
<circle cx="208.1" cy="175.4" r="2.15"/>
<circle cx="211.7" cy="184.5" r="2.15"/>
<circle cx="220.2" cy="184.5" r="2.15"/>
<circle cx="225.0" cy="183.9" r="2.15"/>
<circle cx="231.0" cy="185.7" r="2.15"/>
<circle cx="201.4" cy="182.1" r="2.15"/>
<circle cx="206.3" cy="181.5" r="2.15"/>
<circle cx="203.2" cy="186.9" r="2.15"/>
<circle cx="208.1" cy="188.1" r="2.15"/>
<circle cx="210.5" cy="189.9" r="2.15"/>
<circle cx="218.3" cy="190.5" r="2.15"/>
<circle cx="223.8" cy="188.7" r="2.15"/>
<circle cx="200.8" cy="191.7" r="2.15"/>
<circle cx="205.1" cy="192.9" r="2.15"/>
<circle cx="208.7" cy="194.2" r="2.15"/>
<circle cx="213.5" cy="194.8" r="2.15"/>
<circle cx="218.9" cy="192.9" r="2.15"/>
<circle cx="202.6" cy="197.2" r="2.15"/>
<circle cx="206.3" cy="199.0" r="2.15"/>
<circle cx="209.3" cy="200.8" r="2.15"/>
<circle cx="222.0" cy="198.4" r="2.15"/>
<circle cx="225.0" cy="197.2" r="2.15"/>
<circle cx="217.7" cy="200.8" r="2.15"/>
<circle cx="200.2" cy="202.6" r="2.15"/>
<circle cx="203.2" cy="202.0" r="2.15"/>
<circle cx="222.0" cy="205.0" r="2.15"/>
<circle cx="200.8" cy="211.1" r="2.15"/>
<circle cx="216.5" cy="212.3" r="2.15"/>
<circle cx="214.1" cy="173.6" r="2.15"/>
<circle cx="222.6" cy="174.8" r="2.15"/>
<circle cx="212.9" cy="178.5" r="2.15"/>
<circle cx="218.9" cy="179.1" r="2.15"/>
<circle cx="203.2" cy="172.4" r="2.15"/>
<circle cx="214.1" cy="182.1" r="2.15"/>
<circle cx="204.3" cy="195.6" r="2.15"/>
<circle cx="205.1" cy="169.5" r="2.15"/>
<circle cx="210.2" cy="184.7" r="2.15"/>
<circle cx="201.1" cy="169.9" r="2.15"/>
<circle cx="206.8" cy="173.6" r="2.15"/>
<circle cx="222.1" cy="150.8" r="2.15"/>
<circle cx="222.1" cy="156.7" r="2.15"/>
<circle cx="209.4" cy="154.3" r="2.15"/>
<circle cx="209.5" cy="197.9" r="2.15"/>
<circle cx="214.9" cy="182.4" r="2.15"/>
<circle cx="204.1" cy="159.7" r="2.15"/>
<circle cx="203.2" cy="178.1" r="2.15"/>
<circle cx="214.2" cy="182.5" r="2.15"/>
<circle cx="198.3" cy="192.2" r="2.15"/>
<circle cx="224.7" cy="163.3" r="2.15"/>
<circle cx="198.4" cy="163.4" r="2.15"/>
<circle cx="198.0" cy="156.3" r="2.15"/>
<circle cx="226.3" cy="165.9" r="2.15"/>
<circle cx="215.1" cy="182.1" r="2.15"/>
<circle cx="225.8" cy="166.3" r="2.15"/>
<circle cx="213.5" cy="173.7" r="2.15"/>
<circle cx="216.6" cy="169.9" r="2.15"/>
<circle cx="216.0" cy="148.1" r="2.15"/>
<circle cx="215.4" cy="162.6" r="2.15"/>
<circle cx="219.3" cy="141.0" r="2.15"/>
<circle cx="210.3" cy="134.7" r="2.15"/>
<circle cx="234.7" cy="166.5" r="2.15"/>
<circle cx="229.1" cy="145.6" r="2.15"/>
<circle cx="237.0" cy="160.2" r="2.15"/>
<circle cx="224.9" cy="141.5" r="2.15"/>
<circle cx="214.4" cy="149.9" r="2.15"/>
<circle cx="215.0" cy="150.1" r="2.15"/>
<circle cx="228.5" cy="169.4" r="2.15"/>
<circle cx="206.9" cy="157.9" r="2.15"/>
<circle cx="206.6" cy="139.1" r="2.15"/>
<circle cx="236.4" cy="151.6" r="2.15"/>
<circle cx="241.8" cy="142.9" r="2.15"/>
<circle cx="206.2" cy="150.5" r="2.15"/>
<circle cx="226.2" cy="169.9" r="2.15"/>
<circle cx="245.0" cy="141.0" r="2.15"/>
<circle cx="218.6" cy="135.8" r="2.15"/>
<circle cx="228.6" cy="139.1" r="2.15"/>
<circle cx="209.4" cy="134.0" r="2.15"/>
<circle cx="206.0" cy="163.0" r="2.15"/>
<circle cx="208.6" cy="174.2" r="2.15"/>
<circle cx="207.7" cy="170.3" r="2.15"/>
<circle cx="208.8" cy="134.3" r="2.15"/>
<circle cx="202.5" cy="130.4" r="2.15"/>
<circle cx="202.8" cy="135.9" r="2.15"/>
<circle cx="215.9" cy="135.9" r="2.15"/>
<circle cx="227.4" cy="129.7" r="2.15"/>
<circle cx="226.0" cy="132.6" r="2.15"/>
<circle cx="228.2" cy="133.3" r="2.15"/>
<circle cx="226.0" cy="135.5" r="2.15"/>
<circle cx="234.7" cy="127.5" r="2.15"/>
<circle cx="232.5" cy="137.4" r="2.15"/>
<circle cx="231.8" cy="140.6" r="2.15"/>
<circle cx="189.5" cy="144.9" r="2.15"/>
<circle cx="200.6" cy="141.3" r="2.15"/>
<circle cx="202.8" cy="142.0" r="2.15"/>
<circle cx="208.6" cy="141.7" r="2.15"/>
<circle cx="214.4" cy="142.8" r="2.15"/>
<circle cx="217.3" cy="143.5" r="2.15"/>
<circle cx="227.4" cy="142.8" r="2.15"/>
<circle cx="197.7" cy="144.2" r="2.15"/>
<circle cx="189.0" cy="149.3" r="2.15"/>
<circle cx="186.9" cy="151.4" r="2.15"/>
<circle cx="308.7" cy="96.3" r="2.15"/>
<circle cx="279.2" cy="106.3" r="2.15"/>
<circle cx="252.7" cy="110.0" r="2.15"/>
<circle cx="257.9" cy="112.2" r="2.15"/>
<circle cx="299.0" cy="115.4" r="2.15"/>
<circle cx="268.5" cy="118.0" r="2.15"/>
<circle cx="314.2" cy="121.5" r="2.15"/>
<circle cx="310.9" cy="125.2" r="2.15"/>
<circle cx="303.3" cy="126.7" r="2.15"/>
<circle cx="282.0" cy="125.7" r="2.15"/>
<circle cx="255.5" cy="124.1" r="2.15"/>
<circle cx="239.6" cy="123.7" r="2.15"/>
<circle cx="246.1" cy="124.8" r="2.15"/>
<circle cx="247.2" cy="126.7" r="2.15"/>
<circle cx="235.3" cy="127.4" r="2.15"/>
<circle cx="240.7" cy="127.8" r="2.15"/>
<circle cx="284.2" cy="130.0" r="2.15"/>
<circle cx="269.4" cy="128.5" r="2.15"/>
<circle cx="269.4" cy="131.7" r="2.15"/>
<circle cx="267.9" cy="132.4" r="2.15"/>
<circle cx="251.6" cy="131.1" r="2.15"/>
<circle cx="240.3" cy="131.1" r="2.15"/>
<circle cx="292.4" cy="133.3" r="2.15"/>
<circle cx="240.0" cy="135.0" r="2.15"/>
<circle cx="235.3" cy="136.7" r="2.15"/>
<circle cx="304.8" cy="136.5" r="2.15"/>
<circle cx="261.3" cy="135.4" r="2.15"/>
<circle cx="265.0" cy="138.7" r="2.15"/>
<circle cx="255.5" cy="138.3" r="2.15"/>
<circle cx="257.0" cy="139.3" r="2.15"/>
<circle cx="239.6" cy="139.3" r="2.15"/>
<circle cx="244.4" cy="141.5" r="2.15"/>
<circle cx="312.0" cy="142.6" r="2.15"/>
<circle cx="255.9" cy="143.3" r="2.15"/>
<circle cx="260.3" cy="144.8" r="2.15"/>
<circle cx="235.9" cy="145.9" r="2.15"/>
<circle cx="244.0" cy="147.0" r="2.15"/>
<circle cx="248.3" cy="148.0" r="2.15"/>
<circle cx="270.0" cy="147.0" r="2.15"/>
<circle cx="277.7" cy="149.8" r="2.15"/>
<circle cx="256.6" cy="149.1" r="2.15"/>
<circle cx="271.1" cy="152.0" r="2.15"/>
<circle cx="307.7" cy="150.9" r="2.15"/>
<circle cx="288.1" cy="152.8" r="2.15"/>
<circle cx="255.9" cy="151.3" r="2.15"/>
<circle cx="248.3" cy="153.5" r="2.15"/>
<circle cx="240.7" cy="153.5" r="2.15"/>
<circle cx="234.2" cy="150.2" r="2.15"/>
<circle cx="236.3" cy="148.0" r="2.15"/>
<circle cx="308.1" cy="151.1" r="2.15"/>
<circle cx="288.1" cy="153.3" r="2.15"/>
<circle cx="286.3" cy="155.4" r="2.15"/>
<circle cx="277.7" cy="150.0" r="2.15"/>
<circle cx="271.1" cy="152.6" r="2.15"/>
<circle cx="270.7" cy="158.3" r="2.15"/>
<circle cx="257.0" cy="151.7" r="2.15"/>
<circle cx="257.7" cy="157.6" r="2.15"/>
<circle cx="259.2" cy="159.8" r="2.15"/>
<circle cx="260.9" cy="162.0" r="2.15"/>
<circle cx="248.3" cy="153.9" r="2.15"/>
<circle cx="246.1" cy="157.6" r="2.15"/>
<circle cx="245.5" cy="160.4" r="2.15"/>
<circle cx="240.7" cy="154.8" r="2.15"/>
<circle cx="236.3" cy="159.1" r="2.15"/>
<circle cx="252.7" cy="164.8" r="2.15"/>
<circle cx="253.7" cy="165.7" r="2.15"/>
<circle cx="244.0" cy="165.7" r="2.15"/>
<circle cx="234.2" cy="165.2" r="2.15"/>
<circle cx="237.4" cy="169.6" r="2.15"/>
<circle cx="265.7" cy="167.0" r="2.15"/>
<circle cx="267.4" cy="173.5" r="2.15"/>
<circle cx="257.7" cy="175.0" r="2.15"/>
<circle cx="255.9" cy="176.5" r="2.15"/>
<circle cx="255.5" cy="180.0" r="2.15"/>
<circle cx="317.4" cy="174.3" r="2.15"/>
<circle cx="304.8" cy="183.3" r="2.15"/>
<circle cx="236.3" cy="172.8" r="2.15"/>
<circle cx="246.8" cy="187.0" r="2.15"/>
<circle cx="251.1" cy="185.4" r="2.15"/>
<circle cx="243.3" cy="190.2" r="2.15"/>
<circle cx="247.7" cy="190.9" r="2.15"/>
<circle cx="263.5" cy="188.0" r="2.15"/>
<circle cx="266.8" cy="190.7" r="2.15"/>
<circle cx="259.2" cy="192.4" r="2.15"/>
<circle cx="274.0" cy="195.2" r="2.15"/>
<circle cx="294.0" cy="195.2" r="2.15"/>
<circle cx="275.5" cy="201.7" r="2.15"/>
<circle cx="240.7" cy="202.8" r="2.15"/>
<circle cx="236.3" cy="210.9" r="2.15"/>
<circle cx="234.6" cy="214.8" r="2.15"/>
<circle cx="242.4" cy="213.0" r="2.15"/>
<circle cx="249.0" cy="214.1" r="2.15"/>
<circle cx="232.0" cy="184.8" r="2.15"/>
<circle cx="233.1" cy="178.3" r="2.15"/>
<circle cx="327.4" cy="76.6" r="2.15"/>
<circle cx="327.4" cy="89.4" r="2.15"/>
<circle cx="327.4" cy="90.6" r="2.15"/>
<circle cx="327.4" cy="91.8" r="2.15"/>
<circle cx="327.4" cy="93.0" r="2.15"/>
<circle cx="327.4" cy="94.2" r="2.15"/>
<circle cx="327.4" cy="95.5" r="2.15"/>
<circle cx="327.4" cy="96.7" r="2.15"/>
<circle cx="327.4" cy="97.9" r="2.15"/>
<circle cx="327.4" cy="99.1" r="2.15"/>
<circle cx="327.4" cy="100.3" r="2.15"/>
<circle cx="327.4" cy="101.5" r="2.15"/>
<circle cx="327.4" cy="102.7" r="2.15"/>
<circle cx="327.4" cy="103.9" r="2.15"/>
<circle cx="327.4" cy="105.1" r="2.15"/>
<circle cx="327.4" cy="106.3" r="2.15"/>
<circle cx="327.4" cy="107.6" r="2.15"/>
<circle cx="327.4" cy="108.8" r="2.15"/>
<circle cx="327.4" cy="110.0" r="2.15"/>
<circle cx="327.4" cy="111.2" r="2.15"/>
<circle cx="327.4" cy="112.4" r="2.15"/>
<circle cx="327.4" cy="113.6" r="2.15"/>
<circle cx="327.4" cy="114.8" r="2.15"/>
<circle cx="327.4" cy="116.0" r="2.15"/>
<circle cx="327.4" cy="117.2" r="2.15"/>
<circle cx="327.4" cy="124.0" r="2.15"/>
<circle cx="327.4" cy="126.0" r="2.15"/>
<circle cx="327.4" cy="128.5" r="2.15"/>
<circle cx="327.4" cy="131.0" r="2.15"/>
<circle cx="327.4" cy="134.0" r="2.15"/>
<circle cx="327.4" cy="137.0" r="2.15"/>
<circle cx="327.4" cy="139.5" r="2.15"/>
<circle cx="327.4" cy="142.0" r="2.15"/>
<circle cx="327.4" cy="145.5" r="2.15"/>
<circle cx="327.4" cy="148.0" r="2.15"/>
<circle cx="327.4" cy="152.0" r="2.15"/>
<circle cx="327.4" cy="155.0" r="2.15"/>
<circle cx="327.4" cy="161.0" r="2.15"/>
<circle cx="327.4" cy="164.5" r="2.15"/>
<circle cx="327.4" cy="178.0" r="2.15"/>
<circle cx="327.4" cy="181.0" r="2.15"/>
<circle cx="327.4" cy="184.0" r="2.15"/>
<circle cx="327.4" cy="207.4" r="2.15"/>
</g>
<g stroke="#333" stroke-width="0.9" fill="none">
<line x1="43.6" y1="18.5" x2="43.6" y2="247.6"/>
<line x1="43.2" y1="247.1" x2="403" y2="247.1"/>
<line x1="40.6" y1="237.0" x2="43.6" y2="237.0"/>
<line x1="40.6" y1="167.8" x2="43.6" y2="167.8"/>
<line x1="40.6" y1="98.5" x2="43.6" y2="98.5"/>
<line x1="40.6" y1="29.2" x2="43.6" y2="29.2"/>
<line x1="59.8" y1="247.1" x2="59.8" y2="249.9"/>
<line x1="149.0" y1="247.1" x2="149.0" y2="249.9"/>
<line x1="238.2" y1="247.1" x2="238.2" y2="249.9"/>
<line x1="327.5" y1="247.1" x2="327.5" y2="249.9"/>
</g>
<g font-size="10" fill="#4d4d4d">
<text x="38.3" y="240.9" text-anchor="end">0</text>
<text x="38.3" y="171.7" text-anchor="end">50</text>
<text x="38.3" y="102.4" text-anchor="end">100</text>
<text x="38.3" y="33.1" text-anchor="end">150</text>
<text x="59.8" y="260" text-anchor="middle">-3</text>
<text x="149.0" y="260" text-anchor="middle">0</text>
<text x="238.2" y="260" text-anchor="middle">3</text>
<text x="327.5" y="260" text-anchor="middle">6</text>
</g>
<text transform="translate(13.9,132.5) rotate(-90)" font-size="10.7" fill="#000" stroke="#000" stroke-width="0.15" text-anchor="middle">Significance</text>
<text x="117.6" y="273.7" font-size="10.75" fill="#000" stroke="#000" stroke-width="0.15">Log<tspan font-size="7.5" dy="2.3">2</tspan><tspan dy="-2.3"> fold change (TOM20-mTb:CPT1A-mTb)</tspan></text>
<text x="403" y="288.4" font-size="6.3" fill="#111" stroke="#111" stroke-width="0.12" text-anchor="end">total = 999 variables</text>
<g stroke="#3c3c3c" stroke-width="0.7" fill="none">
<line x1="328.6" y1="96.6" x2="346.1" y2="98.2"/>
<line x1="328.6" y1="102" x2="354" y2="116.3"/>
<line x1="247.6" y1="147.4" x2="268.6" y2="162"/>
<line x1="195.2" y1="163" x2="213.8" y2="176.5"/>
<line x1="193.5" y1="217.8" x2="209.8" y2="229.6"/>
</g>
<g font-size="10.1" fill="#000" stroke="#000" stroke-width="0.22">
<text x="346.8" y="102.7">CPSF2</text>
<text x="354.8" y="121.2" font-size="10.45">GPATCH4</text>
<text x="268.2" y="167.7">MED15</text>
<text x="213.6" y="181.5">LARP4</text>
<text x="210.2" y="235.3">AKAP1</text>
</g>
<text x="3.8" y="306.6" font-size="10" fill="#1a1a1a">B</text>
<g fill="#6c6c6c">
<rect x="142.7" y="317.30" width="12.7" height="9.04"/>
<rect x="142.7" y="326.34" width="13.3" height="9.68"/>
<rect x="142.7" y="336.02" width="13.7" height="9.68"/>
<rect x="142.7" y="345.70" width="14.1" height="9.68"/>
<rect x="142.7" y="355.38" width="14.3" height="9.68"/>
<rect x="142.7" y="365.06" width="15.3" height="9.68"/>
<rect x="142.7" y="374.74" width="15.1" height="9.68"/>
<rect x="142.7" y="384.42" width="15.1" height="9.68"/>
<rect x="142.7" y="394.10" width="16.7" height="9.68"/>
<rect x="142.7" y="403.78" width="19.9" height="9.68"/>
<rect x="142.7" y="413.46" width="19.9" height="9.68"/>
<rect x="142.7" y="423.14" width="20.5" height="9.68"/>
<rect x="142.7" y="432.82" width="20.5" height="9.68"/>
<rect x="142.7" y="442.50" width="22.9" height="9.68"/>
<rect x="142.7" y="452.18" width="32.5" height="9.68"/>
<rect x="142.7" y="461.86" width="33.5" height="9.68"/>
<rect x="142.7" y="471.54" width="39.3" height="9.68"/>
<rect x="142.7" y="481.22" width="42.3" height="9.68"/>
<rect x="142.7" y="490.90" width="98.5" height="9.68"/>
<rect x="142.7" y="500.58" width="182.2" height="9.68"/>
<rect x="142.7" y="510.26" width="255.3" height="8.84"/>
</g>
<g fill="#3f3f3f">
<rect x="142.7" y="317.45" width="12.7" height="8.1"/>
<rect x="142.7" y="327.13" width="13.3" height="8.1"/>
<rect x="142.7" y="336.81" width="13.7" height="8.1"/>
<rect x="142.7" y="346.49" width="14.1" height="8.1"/>
<rect x="142.7" y="356.17" width="14.3" height="8.1"/>
<rect x="142.7" y="365.85" width="15.3" height="8.1"/>
<rect x="142.7" y="375.53" width="15.1" height="8.1"/>
<rect x="142.7" y="385.21" width="15.1" height="8.1"/>
<rect x="142.7" y="394.89" width="16.7" height="8.1"/>
<rect x="142.7" y="404.57" width="19.9" height="8.1"/>
<rect x="142.7" y="414.25" width="19.9" height="8.1"/>
<rect x="142.7" y="423.93" width="20.5" height="8.1"/>
<rect x="142.7" y="433.61" width="20.5" height="8.1"/>
<rect x="142.7" y="443.29" width="22.9" height="8.1"/>
<rect x="142.7" y="452.97" width="32.5" height="8.1"/>
<rect x="142.7" y="462.65" width="33.5" height="8.1"/>
<rect x="142.7" y="472.33" width="39.3" height="8.1"/>
<rect x="142.7" y="482.01" width="42.3" height="8.1"/>
<rect x="142.7" y="491.69" width="98.5" height="8.1"/>
<rect x="142.7" y="501.37" width="182.2" height="8.1"/>
<rect x="142.7" y="511.05" width="255.3" height="8.1"/>
</g>
<g stroke="#444" stroke-width="0.8" fill="none">
<line x1="142.7" y1="315.9" x2="142.7" y2="520.6"/>
<line x1="140.3" y1="321.60" x2="142.7" y2="321.60"/>
<line x1="140.3" y1="331.28" x2="142.7" y2="331.28"/>
<line x1="140.3" y1="340.96" x2="142.7" y2="340.96"/>
<line x1="140.3" y1="350.64" x2="142.7" y2="350.64"/>
<line x1="140.3" y1="360.32" x2="142.7" y2="360.32"/>
<line x1="140.3" y1="370.00" x2="142.7" y2="370.00"/>
<line x1="140.3" y1="379.68" x2="142.7" y2="379.68"/>
<line x1="140.3" y1="389.36" x2="142.7" y2="389.36"/>
<line x1="140.3" y1="399.04" x2="142.7" y2="399.04"/>
<line x1="140.3" y1="408.72" x2="142.7" y2="408.72"/>
<line x1="140.3" y1="418.40" x2="142.7" y2="418.40"/>
<line x1="140.3" y1="428.08" x2="142.7" y2="428.08"/>
<line x1="140.3" y1="437.76" x2="142.7" y2="437.76"/>
<line x1="140.3" y1="447.44" x2="142.7" y2="447.44"/>
<line x1="140.3" y1="457.12" x2="142.7" y2="457.12"/>
<line x1="140.3" y1="466.80" x2="142.7" y2="466.80"/>
<line x1="140.3" y1="476.48" x2="142.7" y2="476.48"/>
<line x1="140.3" y1="486.16" x2="142.7" y2="486.16"/>
<line x1="140.3" y1="495.84" x2="142.7" y2="495.84"/>
<line x1="140.3" y1="505.52" x2="142.7" y2="505.52"/>
<line x1="140.3" y1="515.20" x2="142.7" y2="515.20"/>
<line x1="142.7" y1="520.1" x2="142.7" y2="522.6"/>
<line x1="195.1" y1="520.1" x2="195.1" y2="522.6"/>
<line x1="247.4" y1="520.1" x2="247.4" y2="522.6"/>
<line x1="299.8" y1="520.1" x2="299.8" y2="522.6"/>
<line x1="352.1" y1="520.1" x2="352.1" y2="522.6"/>
<line x1="404.5" y1="520.1" x2="404.5" y2="522.6"/>
</g>
<line x1="142.29999999999998" y1="520.1" x2="404.9" y2="520.1" stroke="#5a5a5a" stroke-width="1.1"/>
<g font-size="8.1" fill="#1a1a1a" stroke="#1a1a1a" stroke-width="0.18" text-anchor="end" transform="translate(138.2,0) scale(0.94,1)">
<text x="0" y="325.05">Nucleic acid binding</text>
<text x="0" y="334.72">Pyridoxal phosphate binding</text>
<text x="0" y="344.40">Macromolecular complex binding</text>
<text x="0" y="354.07">Structural constituent of nuclear pore</text>
<text x="0" y="363.75">Flavin adenine dinucleotide binding</text>
<text x="0" y="373.42">Ribosomal small subunit binding</text>
<text x="0" y="383.10">Small GTPase binding</text>
<text x="0" y="392.77">mRNA 5'UTR binding</text>
<text x="0" y="402.45">Aldehyde dehydrogenase (NAD) activity</text>
<text x="0" y="412.12">Translation initiation factor activity</text>
<text x="0" y="421.80">ATPase activity</text>
<text x="0" y="431.47">tRNA binding</text>
<text x="0" y="441.15">mRNA binding</text>
<text x="0" y="450.82">NADH dehydrogenase activity</text>
<text x="0" y="460.50">Electron carrier activity</text>
<text x="0" y="470.17">GTP binding</text>
<text x="0" y="479.85">Structural constituent of ribosome</text>
<text x="0" y="489.52">ATP binding</text>
<text x="0" y="499.20">Protein binding</text>
<text x="0" y="508.88">Cadherin binding</text>
<text x="0" y="518.55">RNA binding</text>
</g>
<g font-size="8.2" fill="#333" text-anchor="middle">
<text transform="translate(143.0,531.4) scale(0.88,1)">0</text>
<text transform="translate(195.4,531.4) scale(0.88,1)">8</text>
<text transform="translate(247.7,531.4) scale(0.88,1)">16</text>
<text transform="translate(300.1,531.4) scale(0.88,1)">24</text>
<text transform="translate(352.4,531.4) scale(0.88,1)">32</text>
<text transform="translate(404.8,531.4) scale(0.88,1)">40</text>
</g>
<text transform="translate(196.2,541.8) scale(0.94,1)" font-size="9.5" text-anchor="start" fill="#1a1a1a" stroke="#1a1a1a" stroke-width="0.15">Benjamini correction ( – Log<tspan font-size="6.6" dy="1.8" dx="0.5">10</tspan><tspan dy="-1.8" dx="1.6"> P value)</tspan></text>
<g stroke="#ff0000" stroke-width="1.25" fill="none" stroke-linecap="round" stroke-linejoin="round"><line x1="71.6" y1="515.6" x2="93.3" y2="515.6"/><polyline points="89.6,512.2 93.6,515.6 89.6,519"/></g>
</svg></body></html>
